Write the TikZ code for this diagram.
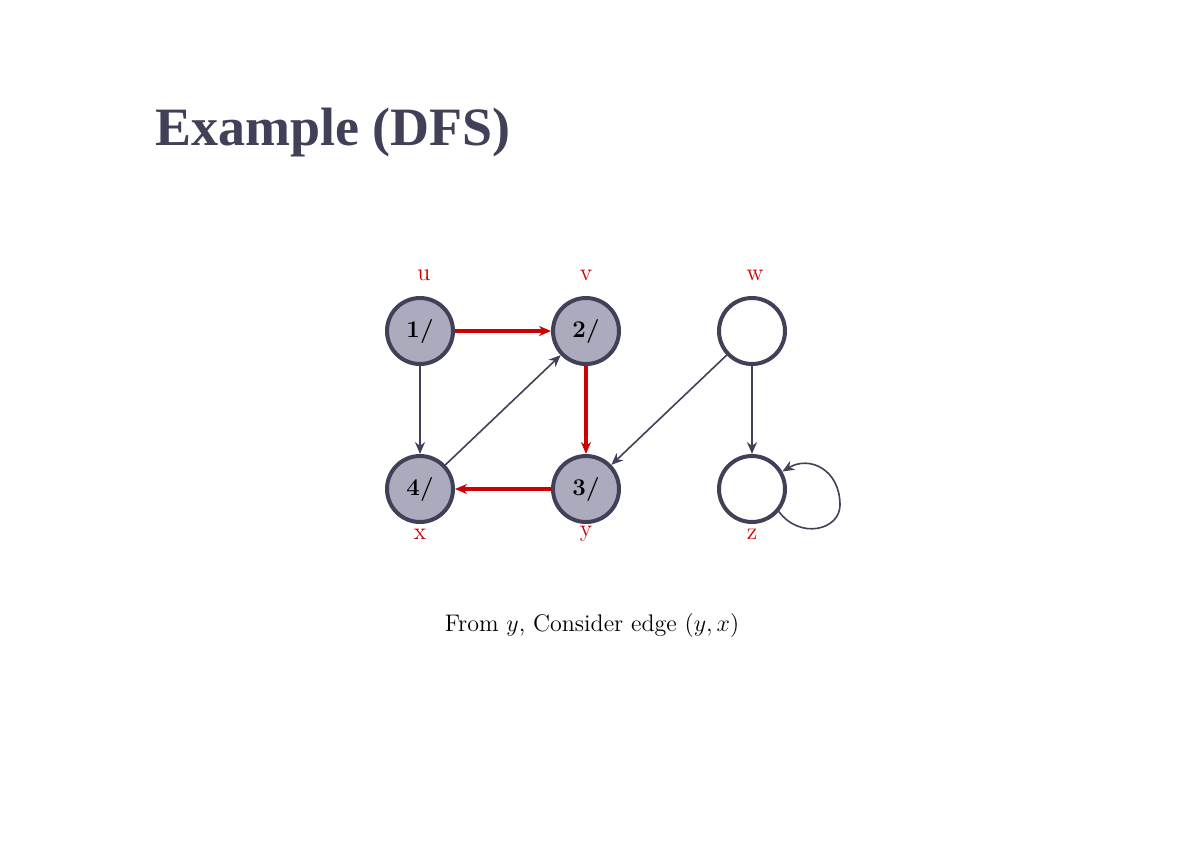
\documentclass[tikz,border=0pt]{standalone}
\usepackage{fontspec}
\newfontfamily\titlefont{Liberation Serif}
\usetikzlibrary{arrows.meta}
\definecolor{slate}{HTML}{404058}
\definecolor{fillg}{HTML}{ABABBD}
\definecolor{dred}{HTML}{CC0000}
\begin{document}
\begin{tikzpicture}[x=0.5pt,y=-0.5pt,
  vert/.style={circle,draw=slate,line width=2pt,minimum size=33pt,inner sep=0pt,font=\large\bfseries},
  gray/.style={vert,fill=fillg},
  lab/.style={text=dred,font=\large},
  edge/.style={draw=slate,line width=0.8pt,-{Stealth[length=6pt,width=5pt]}},
  tree/.style={draw=dred,line width=1.6pt,-{Stealth[length=6pt,width=5pt]}}]
\useasboundingbox (0,0) rectangle (1200,848);
\node[anchor=base west,text=slate,font=\titlefont\bfseries\fontsize{27}{30}\selectfont] (title) at (148,145) {Example (DFS)};
\node[gray] (u) at (420,331) {1/};
\node[gray] (v) at (586,331) {2/};
\node[vert] (w) at (752,331) {};
\node[gray] (x) at (420,489) {4/};
\node[gray] (y) at (586,489) {3/};
\node[vert] (z) at (752,489) {};
\node[lab] (lu) at (424,275) {u};
\node[lab] (lv) at (586,275) {v};
\node[lab] (lw) at (755,275) {w};
\node[lab] (lx) at (420,534) {x};
\node[lab] (ly) at (586,534) {y};
\node[lab] (lz) at (752,534) {z};
\draw[tree] (u) -- (v);
\draw[tree] (v) -- (y);
\draw[tree] (y) -- (x);
\draw[edge] (u) -- (x);
\draw[edge] (x) -- (v);
\draw[edge] (w) -- (y);
\draw[edge] (w) -- (z);
\draw[edge] (z.-40) .. controls (800,540) and (840,530) .. (840,505) .. controls (840,470) and (810,455) .. (z.30);
\node[font=\large] (cap) at (592,625) {From $y$, Consider edge $(y,x)$};
\end{tikzpicture}
\end{document}
